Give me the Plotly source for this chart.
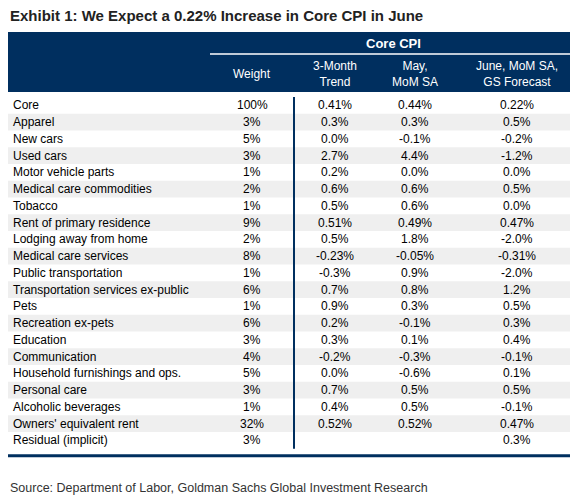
import plotly.graph_objects as go

categories = ["Core","Apparel","New cars","Used cars","Motor vehicle parts","Medical care commodities","Tobacco",
"Rent of primary residence","Lodging away from home","Medical care services","Public transportation",
"Transportation services ex-public","Pets","Recreation ex-pets","Education","Communication",
"Household furnishings and ops.","Personal care","Alcoholic beverages","Owners' equivalent rent","Residual (implicit)"]
weight = ["100%","3%","5%","3%","1%","2%","1%","9%","2%","8%","1%","6%","1%","6%","3%","4%","5%","3%","1%","32%","3%"]
trend3m = ["0.41%","0.3%","0.0%","2.7%","0.2%","0.6%","0.5%","0.51%","0.5%","-0.23%","-0.3%","0.7%","0.9%","0.2%","0.3%","-0.2%","0.0%","0.7%","0.4%","0.52%",""]
may_mom = ["0.44%","0.3%","-0.1%","4.4%","0.0%","0.6%","0.6%","0.49%","1.8%","-0.05%","0.9%","0.8%","0.3%","-0.1%","0.1%","-0.3%","-0.6%","0.5%","0.5%","0.52%",""]
june_fc = ["0.22%","0.5%","-0.2%","-1.2%","0.0%","0.5%","0.0%","0.47%","-2.0%","-0.31%","-2.0%","1.2%","0.5%","0.3%","0.4%","-0.1%","0.1%","0.5%","-0.1%","0.47%","0.3%"]
col_headers = ["Weight","3-Month<br>Trend","May,<br>MoM SA","June, MoM SA,<br>GS Forecast"]

NAVY = "#002f5f"
FONT = "Liberation Sans, Arial"
fig = go.Figure()
shapes, ann = [], []
O = -8  # page body margin compensation
L, R = 8 + O, 575 + O
top0, rh = 97 + O, 16.75
xs = [252 + O, 335 + O, 415 + O, 517 + O]
shapes.append(dict(type="rect", x0=L, x1=R, y0=32 + O, y1=92 + O, fillcolor=NAVY, line_width=0, layer="below"))
shapes.append(dict(type="line", x0=210 + O, x1=R, y0=54 + O, y1=54 + O, line=dict(color="white", width=1.5)))
ann.append(dict(x=393 + O, y=43 + O, text="<b>Core CPI</b>", font=dict(color="white", size=13, family=FONT)))
for x, h in zip(xs, col_headers):
    ann.append(dict(x=x, y=73.5 + O, text=h, font=dict(color="white", size=12, family=FONT)))
for i, c in enumerate(categories):
    y0 = top0 + i*rh
    yc = y0 + rh/2
    if i % 2 == 1:
        shapes.append(dict(type="rect", x0=L, x1=R, y0=y0, y1=y0+rh, fillcolor="#efefef", line_width=0, layer="below"))
    ann.append(dict(x=L+3, y=yc, text=c, xanchor="left", font=dict(size=12, family=FONT, color="black")))
    for x, v in zip(xs, [weight[i], trend3m[i], may_mom[i], june_fc[i]]):
        if v:
            ann.append(dict(x=x, y=yc, text=v, font=dict(size=12, family=FONT, color="black")))
bottom = top0 + len(categories)*rh
shapes.append(dict(type="line", x0=294 + O, x1=294 + O, y0=top0, y1=bottom, line=dict(color=NAVY, width=2)))
shapes.append(dict(type="line", x0=L, x1=R, y0=bottom+7, y1=bottom+7, line=dict(color=NAVY, width=3)))
ann.append(dict(x=L, y=15 + O, text="<b>Exhibit 1: We Expect a 0.22% Increase in Core CPI in June</b>", xanchor="left",
                font=dict(size=15, family=FONT, color="#222")))
ann.append(dict(x=L, y=488 + O, text="Source: Department of Labor, Goldman Sachs Global Investment Research", xanchor="left",
                font=dict(size=12.5, family=FONT, color="#333")))
for a in ann:
    a.update(xref="x", yref="y", showarrow=False)
    a.setdefault("xanchor", "center")
fig.update_layout(width=578, height=500, margin=dict(l=0, r=0, t=0, b=0), plot_bgcolor="white", paper_bgcolor="white",
                  shapes=shapes, annotations=ann,
                  xaxis=dict(range=[0, 578], visible=False, fixedrange=True),
                  yaxis=dict(range=[500, 0], visible=False, fixedrange=True))
fig.write_html("out.html")
